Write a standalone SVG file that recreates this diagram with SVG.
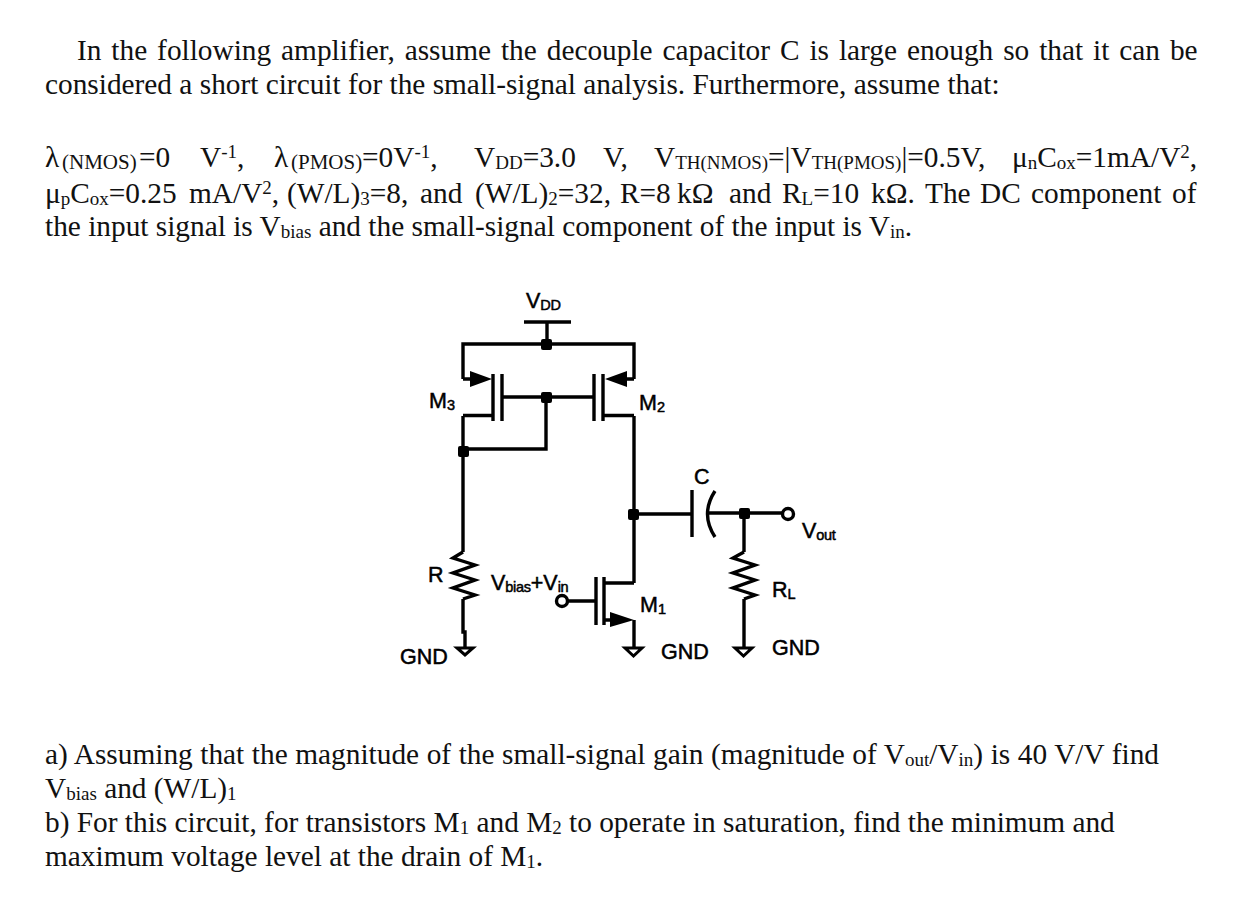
<svg xmlns="http://www.w3.org/2000/svg" width="1244" height="920" viewBox="0 0 1244 920">
<style>
.t{font-family:"Liberation Serif","Times New Roman",serif;font-size:29.33px;fill:#111}
.s{font-size:19px}
.b{font-size:21px}
.u{font-size:19px}
.l{font-family:"Liberation Sans",Arial,sans-serif;font-size:21.500px;fill:#000;stroke:#000;stroke-width:.5}
.ls{font-size:14.500px;letter-spacing:-.3px}
.w{fill:none;stroke:#000;stroke-width:3.400;stroke-linejoin:miter}
.p{fill:none;stroke:#000;stroke-width:3.400}
.g{fill:#fff;stroke:#000;stroke-width:3}
.a{fill:#000;stroke:none}
.d{fill:#000}
.o{fill:#fff;stroke:#000;stroke-width:3.400}
</style>
<rect width="1244" height="920" fill="#fff"/>
<g id="problem-text">
<text class="t" x="77" y="60" style="word-spacing:2.6px">In the following amplifier, assume the decouple capacitor C is large enough so that it can be</text>
<text class="t" x="45" y="94">considered a short circuit for the small-signal analysis. Furthermore, assume that:</text>
<text class="t" x="45" y="167">λ<tspan class="b" x="62" dy="2">(NMOS)</tspan><tspan x="139" dy="-2">=0</tspan><tspan x="200">V</tspan><tspan class="u" dy="-9">-1</tspan><tspan dy="9">,</tspan><tspan x="274">λ</tspan><tspan class="b" x="291" dy="2">(PMOS)</tspan><tspan x="362" dy="-2">=0V</tspan><tspan class="u" dy="-9">-1</tspan><tspan dy="9">,</tspan><tspan x="474">V</tspan><tspan class="s" dy="2">DD</tspan><tspan dy="-2">=3.0</tspan><tspan x="603">V,</tspan><tspan x="654">V</tspan><tspan class="s" dy="2">TH(NMOS)</tspan><tspan dy="-2">=|V</tspan><tspan class="s" dy="2">TH(PMOS)</tspan><tspan dy="-2">|=0.5V,</tspan><tspan x="1012">μ</tspan><tspan class="s" dy="2">n</tspan><tspan dy="-2">C</tspan><tspan class="s" dy="2">ox</tspan><tspan dy="-2">=1mA/V</tspan><tspan class="u" dy="-9">2</tspan><tspan dy="9">,</tspan></text>
<text class="t" x="45" y="203">μ<tspan class="s" dy="2">p</tspan><tspan dy="-2">C</tspan><tspan class="s" dy="2">ox</tspan><tspan dy="-2">=0.25</tspan><tspan x="189">mA/V</tspan><tspan class="u" dy="-9">2</tspan><tspan dy="9">,</tspan><tspan x="287">(W/L)</tspan><tspan class="s" dy="2">3</tspan><tspan dy="-2">=8,</tspan><tspan x="420">and</tspan><tspan x="475">(W/L)</tspan><tspan class="s" dy="2">2</tspan><tspan dy="-2">=32,</tspan><tspan x="620">R=8</tspan><tspan x="677">kΩ</tspan><tspan x="729">and</tspan><tspan x="782">R</tspan><tspan class="s" dy="2">L</tspan><tspan dy="-2">=10</tspan><tspan x="871">kΩ.</tspan><tspan x="925">The</tspan><tspan x="980">DC</tspan><tspan x="1031">component</tspan><tspan x="1172">of</tspan></text>
<text class="t" x="45" y="236">the input signal is V<tspan class="s" dy="2">bias</tspan><tspan dy="-2"> and the small-signal component of the input is V</tspan><tspan class="s" dy="2">in</tspan><tspan dy="-2">.</tspan></text>
<text class="t" x="45" y="764" style="word-spacing:.25px">a) Assuming that the magnitude of the small-signal gain (magnitude of V<tspan class="s" dy="2">out</tspan><tspan dy="-2">/V</tspan><tspan class="s" dy="2">in</tspan><tspan dy="-2">) is 40 V/V find</tspan></text>
<text class="t" x="45" y="798">V<tspan class="s" dy="2">bias</tspan><tspan dy="-2"> and (W/L)</tspan><tspan class="s" dy="2">1</tspan></text>
<text class="t" x="45" y="832">b) For this circuit, for transistors M<tspan class="s" dy="2">1</tspan><tspan dy="-2"> and M</tspan><tspan class="s" dy="2">2</tspan><tspan dy="-2"> to operate in saturation, find the minimum and</tspan></text>
<text class="t" x="45" y="866">maximum voltage level at the drain of M<tspan class="s" dy="2">1</tspan><tspan dy="-2">.</tspan></text>
</g>
<g id="connectors">
<path class="w" d="M547 322V344M463 379V344H634V379M502 397H594M546 397V449H463M463 416V552M634 416V583M634 514H691M707 513H783M744 513V552M463 599V632H465V648M744 599V648M634 620V648M568 601H596"/>
</g>
<g id="vdd"><path class="w" d="M524 322H571"/><text class="l" x="526" y="308">V<tspan class="ls" dy="2">DD</tspan></text></g>
<g id="M3"><path class="p" d="M463 379H480M463 415.500H493M493 374V421M502 374V421"/><path class="a" d="M470 371V387L492 379Z"/><text class="l" x="429" y="408">M<tspan class="ls" dy="2">3</tspan></text></g>
<g id="M2"><path class="p" d="M634 379H615M603 415.500H634M594 374V421M603 374V421"/><path class="a" d="M627 371V387L605 379Z"/><text class="l" x="639" y="410">M<tspan class="ls" dy="2">2</tspan></text></g>
<g id="M1"><path class="p" d="M596 577V625M604 577V625M604 583H634M604 620H612"/><path class="a" d="M610 612V627L634 620Z"/><text class="l" x="640" y="612">M<tspan class="ls" dy="2">1</tspan></text></g>
<g id="R"><path class="w" d="M463 552L453 558L475 565L453 573L475 580L453 588L475 595L463 599"/><text class="l" x="428" y="582">R</text></g>
<g id="RL"><path class="w" d="M744 552L733 558L755 565L733 573L755 580L733 588L755 595L744 599"/><text class="l" x="772" y="597">R<tspan class="ls" dy="2">L</tspan></text></g>
<g id="C"><path class="w" d="M692 490V537M715 491Q700 514 715 537"/><text class="l" x="694" y="484">C</text></g>
<g id="junctions"><rect class="d" x="541" y="339" width="11" height="11" rx="2"/><rect class="d" x="541" y="392" width="11" height="11" rx="2"/><rect class="d" x="458" y="446" width="11" height="11" rx="2"/><rect class="d" x="628" y="509" width="11" height="11" rx="2"/><rect class="d" x="739" y="508" width="11" height="11" rx="2"/></g>
<g id="input"><circle class="o" cx="562" cy="601" r="5.500"/><text class="l" x="491" y="590">V<tspan class="ls" dy="2">bias</tspan><tspan dy="-2">+V</tspan><tspan class="ls" dy="2">in</tspan></text></g>
<g id="output"><circle class="o" cx="788" cy="514" r="5.500"/><text class="l" x="802" y="538">V<tspan class="ls" dy="2">out</tspan></text></g>
<g id="gnd-r"><path class="g" d="M457 648H473L465 655Z"/><text class="l" x="400" y="664">GND</text></g>
<g id="gnd-m1"><path class="g" d="M625 648H642L633.500 656Z"/><text class="l" x="661" y="659">GND</text></g>
<g id="gnd-rl"><path class="g" d="M735 648H752L743.500 656Z"/><text class="l" x="772" y="655">GND</text></g>
</svg>
